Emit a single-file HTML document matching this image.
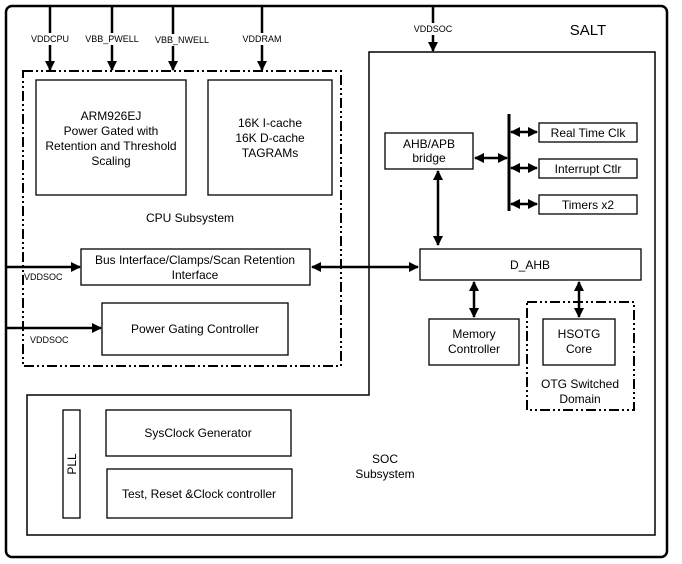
<!DOCTYPE html>
<html><head><meta charset="utf-8"><style>
html,body{margin:0;padding:0;background:#fff;}
svg{display:block;font-family:"Liberation Sans",sans-serif;}
text{fill:#000;}
</style></head><body>
<svg width="682" height="564" viewBox="0 0 682 564" xmlns="http://www.w3.org/2000/svg">
<defs>
<marker id="b" markerWidth="10" markerHeight="10" refX="9" refY="5" orient="auto-start-reverse" markerUnits="userSpaceOnUse"><path d="M0,0 L10,5 L0,10 z" fill="#000"/></marker>
</defs>
<rect x="6" y="6" width="661" height="551" rx="6" fill="none" stroke="#000" stroke-width="2.5"/>
<text x="588" y="35" font-size="15" text-anchor="middle">SALT</text>
<path d="M369,52 H655 V535 H27 V395 H369 Z" fill="none" stroke="#000" stroke-width="1.5"/>
<rect x="23" y="71" width="318" height="295" fill="none" stroke="#000" stroke-width="2" stroke-dasharray="10,3,2,3,2,3"/>
<g stroke="#000" stroke-width="2.5">
<line x1="50" y1="6" x2="50" y2="70" marker-end="url(#b)"/>
<line x1="112" y1="6" x2="112" y2="70" marker-end="url(#b)"/>
<line x1="173" y1="6" x2="173" y2="70" marker-end="url(#b)"/>
<line x1="262" y1="6" x2="262" y2="70" marker-end="url(#b)"/>
<line x1="433" y1="6" x2="433" y2="51" marker-end="url(#b)"/>
</g>
<g fill="#fff">
<rect x="28" y="33" width="44" height="12"/>
<rect x="82" y="33" width="60" height="12"/>
<rect x="152" y="34" width="61" height="12"/>
<rect x="240" y="33" width="44" height="12"/>
<rect x="411" y="23" width="44" height="12"/>
</g>
<g font-size="9" text-anchor="middle">
<text x="50" y="42">VDDCPU</text>
<text x="112" y="42">VBB_PWELL</text>
<text x="182" y="43">VBB_NWELL</text>
<text x="262" y="42">VDDRAM</text>
<text x="433" y="32">VDDSOC</text>
</g>
<g fill="#fff" stroke="#000" stroke-width="1.3">
<rect x="36" y="80" width="150" height="115"/>
<rect x="208" y="80" width="124" height="115"/>
<rect x="81" y="249" width="229" height="36"/>
<rect x="102" y="303" width="186" height="52"/>
<rect x="385" y="133" width="88" height="36"/>
<rect x="539" y="123" width="98" height="19"/>
<rect x="539" y="159" width="98" height="19"/>
<rect x="539" y="195" width="98" height="19"/>
<rect x="420" y="249" width="221" height="31"/>
<rect x="429" y="319" width="90" height="46"/>
<rect x="543" y="319" width="72" height="46"/>
<rect x="63" y="410" width="17" height="108"/>
<rect x="106" y="410" width="185" height="46"/>
<rect x="107" y="469" width="185" height="49"/>
</g>
<rect x="527" y="302" width="107" height="108" fill="none" stroke="#000" stroke-width="2" stroke-dasharray="10,3,2,3,2,3"/>
<g font-size="12" text-anchor="middle">
<text x="111" y="120">ARM926EJ</text>
<text x="111" y="135">Power Gated with</text>
<text x="111" y="150">Retention and Threshold</text>
<text x="111" y="165">Scaling</text>
<text x="270" y="127">16K I-cache</text>
<text x="270" y="142">16K D-cache</text>
<text x="270" y="157">TAGRAMs</text>
<text x="190" y="222">CPU Subsystem</text>
<text x="195" y="264">Bus Interface/Clamps/Scan Retention</text>
<text x="195" y="279">Interface</text>
<text x="195" y="333">Power Gating Controller</text>
<text x="429" y="148">AHB/APB</text>
<text x="429" y="162">bridge</text>
<text x="588" y="137">Real Time Clk</text>
<text x="588" y="173">Interrupt Ctlr</text>
<text x="588" y="209">Timers x2</text>
<text x="530" y="269">D_AHB</text>
<text x="474" y="338">Memory</text>
<text x="474" y="353">Controller</text>
<text x="579" y="338">HSOTG</text>
<text x="579" y="353">Core</text>
<text x="580" y="388">OTG Switched</text>
<text x="580" y="403">Domain</text>
<text x="198" y="437">SysClock Generator</text>
<text x="199" y="498">Test, Reset &amp;Clock controller</text>
<text x="385" y="463">SOC</text>
<text x="385" y="478">Subsystem</text>
<text transform="translate(76,464) rotate(-90)">PLL</text>
</g>
<g font-size="9">
<text x="24" y="280">VDDSOC</text>
<text x="30" y="343">VDDSOC</text>
</g>
<g stroke="#000" stroke-width="2.5" fill="none">
<line x1="6" y1="267" x2="80" y2="267" marker-end="url(#b)"/>
<line x1="6" y1="328" x2="101" y2="328" marker-end="url(#b)"/>
<line x1="312" y1="267" x2="418" y2="267" marker-start="url(#b)" marker-end="url(#b)"/>
<line x1="438" y1="171" x2="438" y2="245" marker-start="url(#b)" marker-end="url(#b)"/>
<line x1="475" y1="158" x2="507" y2="158" marker-start="url(#b)" marker-end="url(#b)"/>
<line x1="509" y1="114" x2="509" y2="211" stroke-width="3"/>
<line x1="511" y1="132" x2="537" y2="132" marker-start="url(#b)" marker-end="url(#b)"/>
<line x1="511" y1="168" x2="537" y2="168" marker-start="url(#b)" marker-end="url(#b)"/>
<line x1="511" y1="204" x2="537" y2="204" marker-start="url(#b)" marker-end="url(#b)"/>
<line x1="474" y1="282" x2="474" y2="317" marker-start="url(#b)" marker-end="url(#b)"/>
<line x1="579" y1="282" x2="579" y2="317" marker-start="url(#b)" marker-end="url(#b)"/>
</g>
</svg>
</body></html>
